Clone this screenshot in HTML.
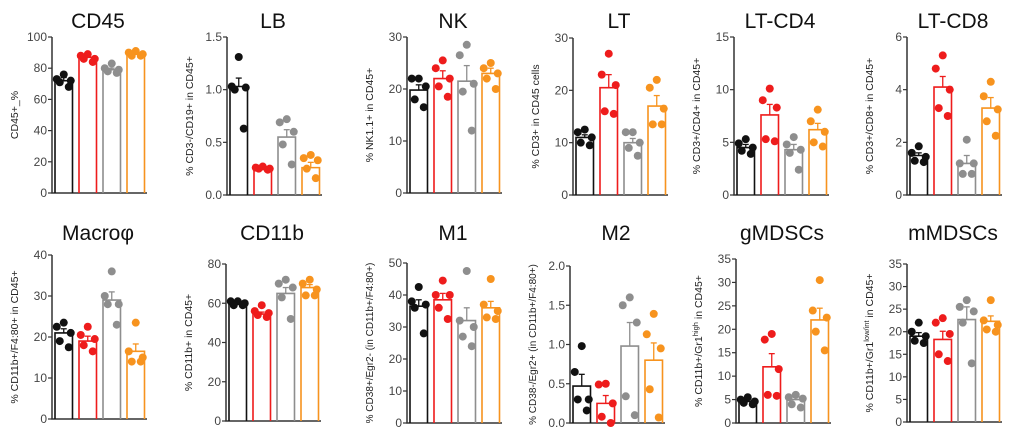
<!DOCTYPE html>
<html><head><meta charset="utf-8"><style>
html,body{margin:0;padding:0;background:#fff;}
svg{display:block;font-family:"Liberation Sans",sans-serif;}
</style></head><body>
<svg id="s" width="1024" height="445" viewBox="0 0 1024 445" xmlns="http://www.w3.org/2000/svg"></svg>
<script>
var C=['#111111','#ee1c1c','#8e8e8e','#f7931e'];
var P=[
{t:'CD45',ax:52,top:37,bot:193,max:100,ticks:[0,20,40,60,80,100],dec:0,lab:'CD45+_%',ty:28,
 d:[[72,2,[76,73,72,71,68]],[87,1,[89,88,86,86,84]],[79,1,[83,80,79,78,77]],[89,1,[91,90,89,88,88]]]},
{t:'LB',ax:227,top:37,bot:195,max:1.5,ticks:[0,0.5,1,1.5],dec:1,lab:'% CD3-/CD19+ in CD45+',ty:28,
 d:[[1.03,0.08,[1.31,1.03,1.02,1.0,0.63]],[0.26,0.01,[0.27,0.26,0.25,0.25,0.24]],[0.55,0.07,[0.72,0.69,0.6,0.48,0.29]],[0.26,0.05,[0.38,0.35,0.33,0.25,0.16]]]},
{t:'NK',ax:407,top:37,bot:193,max:30,ticks:[0,10,20,30],dec:0,lab:'% NK1.1+ in CD45+',ty:28,
 d:[[19.8,1,[22,22,20.5,18,16.5]],[22,1.5,[25.5,24,22,20.5,18.5]],[21.5,3,[28.5,26.5,21,19.5,12]],[23,1,[25,24,23,22,20]]]},
{t:'LT',ax:573,top:38,bot:195,max:30,ticks:[0,10,20,30],dec:0,lab:'% CD3+ in CD45 cells',ty:28,
 d:[[11,0.5,[12.5,12,11,10,9.5]],[20.5,2.5,[27,23,21,16,15.5]],[10,0.8,[12,12,10,9,7.5]],[17,2,[22,20.5,16.5,13.5,13.5]]]},
{t:'LT-CD4',ax:734,top:37,bot:195,max:15,ticks:[0,5,10,15],dec:0,lab:'% CD3+/CD4+ in CD45+',ty:28,
 d:[[4.5,0.3,[5.3,4.9,4.5,4.2,3.9]],[7.6,1,[10.1,9,8.3,5.3,5.1]],[4.3,0.5,[5.5,4.8,4.3,4.0,2.4]],[6.2,0.6,[8.1,7,6,5,4.6]]]},
{t:'LT-CD8',ax:907,top:37,bot:195,max:6,ticks:[0,2,4,6],dec:0,lab:'% CD3+/CD8+ in CD45+',ty:28,
 d:[[1.5,0.1,[1.85,1.6,1.45,1.3,1.25]],[4.1,0.4,[5.3,4.8,4.0,3.3,3.0]],[1.2,0.3,[2.1,1.2,1.2,0.8,0.8]],[3.3,0.4,[4.3,3.75,3.25,2.8,2.25]]]},
{t:'Macroφ',ax:52,top:255,bot:419,max:40,ticks:[0,10,20,30,40],dec:0,lab:'% CD11b+/F4:80+ in CD45+',ty:240,
 d:[[21,1,[23.5,22.5,21,19,17.5]],[19,1.2,[22.5,20.5,19.5,18,16.5]],[29,2,[36,30,28,28,23]],[16.5,1.8,[23.5,16.5,15,14,14]]]},
{t:'CD11b',ax:226,top:264,bot:421,max:80,ticks:[0,20,40,60,80],dec:0,lab:'% CD11b+ in CD45+',ty:240,
 d:[[60,0.5,[61,61,60,59,59]],[54.5,1,[59,56,55,54,53]],[65,3,[72,70,68,63,52]],[68,1.5,[72,70,67,64,64]]]},
{t:'M1',ax:407,top:263,bot:423,max:50,ticks:[0,10,20,30,40,50],dec:0,lab:'% CD38+/Egr2- (in CD11b+/F4:80+)',ty:240,
 d:[[36.5,2,[42.5,38,37,36,28]],[38.5,2,[44.5,40,40,36,32.5]],[32,4,[47.5,32,30,27,24]],[36,2,[45,37,35,33,32.5]]]},
{t:'M2',ax:570,top:266,bot:423,max:2,ticks:[0,0.5,1,1.5,2],dec:1,lab:'% CD38-/Egr2+ (in CD11b+/F4:80+)',ty:240,
 d:[[0.47,0.15,[0.98,0.65,0.3,0.3,0.16]],[0.25,0.1,[0.5,0.49,0.25,0.08,0]],[0.98,0.3,[1.6,1.5,1.28,0.34,0.1]],[0.8,0.22,[1.39,1.13,0.95,0.43,0.07]]]},
{t:'gMDSCs',ax:736,top:259,bot:423,max:35,ticks:[0,5,10,15,20,25,30,35],dec:0,lab:'high',ty:240,
 d:[[4.6,0.3,[5.5,5,4.6,4.3,4]],[12,2.8,[19,17.8,11.5,6,5.8]],[5,0.6,[6,5.5,5.2,4,3.3]],[22,2.5,[30.5,24,22.5,19.5,15.5]]]},
{t:'mMDSCs',ax:907,top:264,bot:422,max:35,ticks:[0,5,10,15,20,25,30,35],dec:0,lab:'low/int',ty:240,
 d:[[19,0.8,[22,20,19,18,17.5]],[18.3,1.8,[23,22,19.5,15,13.5]],[22.7,2.8,[27,25.5,24.5,22,13]],[22.3,1.2,[27,22.5,21.5,20.5,20]]]}
];
var jx=[0,-7,7,-4,5];
var h='';
P.forEach(function(p){
 var Y=function(v){return p.bot-(v/p.max)*(p.bot-p.top);};
 var ax=p.ax;
 h+='<text x="'+(ax+46)+'" y="'+p.ty+'" font-size="21" text-anchor="middle" fill="#111">'+p.t+'</text>';
 h+='<line x1="'+ax+'" y1="'+p.top+'" x2="'+ax+'" y2="'+p.bot+'" stroke="#333" stroke-width="1.5"/>';
 h+='<line x1="'+(ax-0.7)+'" y1="'+p.bot+'" x2="'+(ax+95)+'" y2="'+p.bot+'" stroke="#333" stroke-width="1.5"/>';
 p.ticks.forEach(function(t){var y=Y(t);
  h+='<line x1="'+(ax-4)+'" y1="'+y+'" x2="'+ax+'" y2="'+y+'" stroke="#333" stroke-width="1.2"/>';
  h+='<text x="'+(ax-5)+'" y="'+(y+4)+'" font-size="12" text-anchor="end" fill="#444">'+t.toFixed(p.dec)+'</text>';});
 var cy=(p.top+p.bot)/2, lx=ax-34;
 if(p.lab=='high'||p.lab=='low/int'){
  h+='<text transform="translate('+lx+','+cy+') rotate(-90)" font-size="10.5" text-anchor="middle" fill="#222">% CD11b+/Gr1<tspan font-size="7.5" dy="-4">'+p.lab+'</tspan><tspan dy="4"> in CD45+</tspan></text>';
 } else {
  var fs=p.lab.length>25?10:10.5;
  h+='<text transform="translate('+lx+','+cy+') rotate(-90)" font-size="'+fs+'" text-anchor="middle" fill="#222">'+p.lab+'</text>';
 }
 p.d.forEach(function(g,i){
  var x0=ax+3+i*24, w=17.5, cx=x0+w/2, col=C[i];
  var ym=Y(g[0]);
  h+='<line x1="'+cx+'" y1="'+ym+'" x2="'+cx+'" y2="'+Y(g[0]+g[1])+'" stroke="'+col+'" stroke-width="1.3"/>';
  h+='<line x1="'+(cx-3)+'" y1="'+Y(g[0]+g[1])+'" x2="'+(cx+3)+'" y2="'+Y(g[0]+g[1])+'" stroke="'+col+'" stroke-width="1.3"/>';
  h+='<path d="M'+x0+' '+p.bot+'V'+ym+'H'+(x0+w)+'V'+p.bot+'" fill="none" stroke="'+col+'" stroke-width="1.6"/>';
  g[2].forEach(function(v,k){
   h+='<circle cx="'+(cx+jx[k])+'" cy="'+Y(v)+'" r="4" fill="'+col+'"/>';});
 });
});
document.getElementById('s').innerHTML=h;
</script>
</body></html>
